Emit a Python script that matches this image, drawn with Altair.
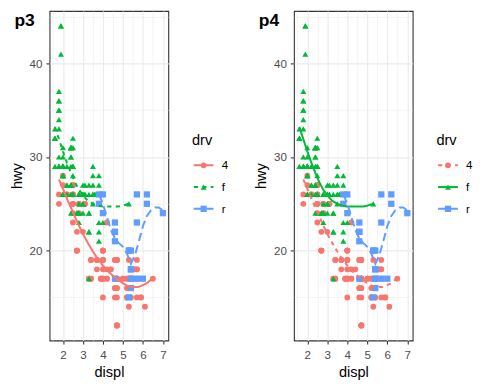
import altair as alt
import pandas as pd

FONT = "Liberation Sans"
drv_levels = ["4", "f", "r"]
drv_colors = ["#F8766D", "#00BA38", "#619CFF"]
drv_shapes = ["circle", "triangle-up", "square"]
drv_sizes = [34, 40, 30]

# ---- points (displ, hwy) by drive train ----
displ_4 = [1.8, 1.8, 2.0, 2.0, 2.8, 2.8, 3.1, 3.1, 2.8, 3.1, 4.2, 5.3, 5.3, 5.7, 6.5,
           3.7, 3.7, 3.9, 3.9, 4.7, 4.7, 4.7, 5.2, 5.2, 3.9, 4.7, 4.7, 4.7, 5.2, 5.7, 5.9,
           4.7, 4.7, 4.7, 4.7, 4.7, 5.2, 5.2, 5.7, 5.9, 4.0, 4.0, 4.0, 4.0, 4.6, 5.0,
           4.2, 4.2, 4.6, 4.6, 4.6, 5.4, 5.4, 3.0, 3.7, 4.0, 4.7, 4.7, 4.7, 5.7, 6.1,
           4.0, 4.2, 4.4, 4.6, 4.0, 4.0, 4.6, 5.0, 3.3, 3.3, 4.0, 5.6,
           2.5, 2.5, 2.5, 2.5, 2.5, 2.5, 2.2, 2.2, 2.5, 2.5, 2.5, 2.5,
           2.7, 2.7, 3.4, 3.4, 4.0, 4.7, 4.7, 5.7, 2.7, 2.7, 2.7, 3.4, 3.4, 4.0, 4.0]
hwy_4 = [26, 25, 28, 27, 25, 25, 25, 25, 24, 25, 23, 19, 14, 15, 17,
         19, 18, 17, 17, 19, 19, 12, 17, 15, 17, 17, 12, 17, 16, 18, 15,
         16, 12, 17, 17, 16, 15, 17, 17, 15, 17, 19, 17, 19, 19, 17,
         17, 17, 16, 16, 17, 15, 17, 22, 19, 20, 17, 12, 19, 19, 14,
         15, 18, 18, 15, 17, 19, 19, 17, 17, 17, 20, 18,
         25, 24, 27, 25, 26, 23, 26, 26, 27, 25, 27, 26,
         20, 20, 19, 17, 20, 17, 15, 18, 20, 20, 22, 17, 19, 18, 20]

displ_f = [1.8, 1.8, 2.0, 2.0, 2.8, 2.8, 3.1, 2.4, 2.4, 3.1, 3.5, 3.6,
           2.4, 3.0, 3.3, 3.3, 3.3, 3.3, 3.3, 3.8, 3.8, 3.8, 4.0,
           1.6, 1.6, 1.6, 1.6, 1.6, 1.8, 1.8, 1.8, 2.0,
           2.4, 2.4, 2.4, 2.4, 2.5, 2.5, 3.3, 2.0, 2.0, 2.0, 2.0, 2.7, 2.7, 2.7,
           2.4, 2.4, 2.5, 2.5, 3.5, 3.5, 3.5, 3.0, 3.0, 3.5,
           3.1, 3.8, 3.8, 3.8, 5.3, 2.2, 2.2, 2.4, 2.4, 3.0, 3.0, 3.5,
           2.2, 2.2, 2.4, 2.4, 3.0, 3.0, 3.3, 1.8, 1.8, 1.8, 1.8, 1.8,
           2.0, 2.0, 2.0, 2.0, 2.8, 1.9, 2.0, 2.0, 2.0, 2.0, 2.5, 2.5, 2.8, 2.8,
           1.9, 1.9, 2.0, 2.0, 2.5, 2.5, 1.8, 1.8, 2.0, 2.0, 2.8, 2.8, 3.6]
hwy_f = [29, 29, 31, 30, 26, 26, 27, 27, 30, 26, 29, 26,
         24, 24, 22, 22, 24, 24, 17, 22, 21, 23, 23,
         33, 32, 32, 29, 32, 34, 36, 36, 29,
         26, 27, 30, 31, 26, 26, 26, 26, 29, 28, 29, 24, 24, 24,
         29, 27, 31, 32, 27, 26, 26, 25, 25, 25,
         26, 26, 27, 28, 25, 26, 27, 31, 31, 26, 26, 28,
         27, 29, 31, 31, 26, 27, 27, 30, 33, 35, 37, 35,
         29, 29, 28, 29, 26, 44, 29, 26, 29, 29, 29, 29, 23, 24,
         44, 41, 29, 26, 28, 29, 29, 29, 28, 29, 24, 25, 26]

displ_r = [5.3, 5.3, 5.3, 5.7, 6.0, 5.7, 5.7, 6.2, 6.2, 7.0, 4.6, 5.4, 5.4,
           3.8, 3.8, 4.0, 4.0, 4.6, 4.6, 4.6, 4.6, 5.4, 5.4, 5.4, 5.4]
hwy_r = [20, 15, 20, 17, 17, 26, 23, 26, 25, 24, 17, 17, 18,
         26, 25, 26, 24, 21, 22, 23, 22, 20, 17, 16, 18]

# ---- smoothed curves ----
smooth_x_4 = [1.8, 2.0, 2.25, 2.5, 2.75, 3.0, 3.25, 3.5, 3.75, 4.0, 4.25, 4.5, 4.75,
              5.0, 5.25, 5.5, 5.75, 6.0, 6.25, 6.5]
smooth_y_4 = [27.6, 26.6, 25.3, 24.1, 22.9, 21.8, 20.8, 19.9, 19.1, 18.4, 17.8, 17.3, 16.9,
              16.5, 16.2, 16.1, 16.1, 16.3, 16.6, 17.1]
smooth_x_f = [1.6, 1.8, 2.0, 2.2, 2.4, 2.6, 2.8, 3.0, 3.25, 3.5, 3.75, 4.0, 4.25, 4.5,
              4.75, 5.0, 5.3]
smooth_y_f = [33.2, 31.9, 30.6, 29.4, 28.3, 27.3, 26.5, 25.9, 25.3, 25.0, 24.8, 24.7, 24.7, 24.7,
              24.7, 24.8, 25.0]
smooth_x_r = [3.8, 4.0, 4.2, 4.4, 4.6, 4.8, 5.0, 5.2, 5.4, 5.6, 5.8, 6.0, 6.2, 6.4, 6.6,
              6.8, 7.0]
smooth_y_r = [26.0, 25.0, 23.6, 22.2, 21.3, 20.8, 20.4, 19.7, 18.6, 19.5, 21.0, 22.6, 23.7,
              24.3, 24.6, 24.6, 24.3]

x_ticks = [1.5, 2, 2.5, 3, 3.5, 4, 4.5, 5, 5.5, 6, 6.5, 7]
y_ticks = [15, 20, 25, 30, 35, 40, 45]

points_df = pd.concat([
    pd.DataFrame({"displ": displ_4, "hwy": hwy_4, "drv": "4"}),
    pd.DataFrame({"displ": displ_f, "hwy": hwy_f, "drv": "f"}),
    pd.DataFrame({"displ": displ_r, "hwy": hwy_r, "drv": "r"}),
], ignore_index=True)
smooth_df = pd.concat([
    pd.DataFrame({"displ": smooth_x_4, "hwy": smooth_y_4, "drv": "4"}),
    pd.DataFrame({"displ": smooth_x_f, "hwy": smooth_y_f, "drv": "f"}),
    pd.DataFrame({"displ": smooth_x_r, "hwy": smooth_y_r, "drv": "r"}),
], ignore_index=True)

SOLID = [1, 0]
DASH22 = [4.3, 4.3]
DASH42 = [8.5, 4.3]
dash_p3 = [SOLID, DASH22, DASH42]
dash_p4 = [DASH22, SOLID, DASH42]

W, H = 120, 333

color_enc = alt.Color("drv:N", scale=alt.Scale(domain=drv_levels, range=drv_colors), legend=None)
shape_enc = alt.Shape("drv:N", scale=alt.Scale(domain=drv_levels, range=drv_shapes), legend=None)
size_enc = alt.Size("drv:N", scale=alt.Scale(domain=drv_levels, range=drv_sizes), legend=None)


def dash_enc(rng):
    return alt.StrokeDash("drv:N", scale=alt.Scale(domain=drv_levels, range=rng), legend=None)


axis_common = dict(
    domain=False, grid=True, gridColor="#EBEBEB",
    tickColor="#333333", tickSize=3.7, tickWidth=1.07,
    labelColor="#4D4D4D", labelFont=FONT, labelFontSize=11.7,
    titleFont=FONT, titleFontSize=14.7, titleColor="#000000", titleFontWeight="normal",
    labelOverlap=False, labelFlush=False,
)

x_axis = alt.Axis(
    values=x_ticks, labelPadding=6, titlePadding=3,
    gridWidth={"condition": {"test": "datum.value % 1 != 0", "value": 0.55}, "value": 1.1},
    tickOpacity={"condition": {"test": "datum.value % 1 != 0", "value": 0}, "value": 1},
    labelExpr="datum.value % 1 == 0 ? format(datum.value, 'd') : ''",
    **axis_common,
)
y_axis = alt.Axis(
    values=y_ticks, labelPadding=4, titlePadding=5,
    gridWidth={"condition": {"test": "datum.value % 10 != 0", "value": 0.55}, "value": 1.1},
    tickOpacity={"condition": {"test": "datum.value % 10 != 0", "value": 0}, "value": 1},
    labelExpr="datum.value % 10 == 0 ? format(datum.value, 'd') : ''",
    **axis_common,
)

x_enc = alt.X("displ:Q", scale=alt.Scale(domain=[1.33, 7.27], nice=False, zero=False),
              axis=x_axis, title="displ")
y_enc = alt.Y("hwy:Q", scale=alt.Scale(domain=[10.4, 45.6], nice=False, zero=False),
              axis=y_axis, title="hwy")


def panel(tag, dashes):
    pts = alt.Chart(points_df).mark_point(filled=True, opacity=1, strokeWidth=0).encode(
        x=x_enc, y=y_enc, color=color_enc, shape=shape_enc, size=size_enc)
    lines = alt.Chart(smooth_df).mark_line(strokeWidth=2).encode(
        x=x_enc, y=y_enc, color=color_enc, strokeDash=dash_enc(dashes))
    tag_txt = alt.Chart(pd.DataFrame({"t": [tag]})).mark_text(
        align="left", baseline="alphabetic", font=FONT, fontSize=17.6, fontWeight="bold",
        color="#000000").encode(text="t:N", x=alt.value(-35.5), y=alt.value(15.3))
    return alt.layer(pts, lines, tag_txt).properties(
        width=W, height=H,
        view=alt.ViewBackground(stroke="#333333", strokeWidth=1.1, fill="white"))


def legend(dashes):
    ldf = pd.DataFrame({"drv": drv_levels})
    y = alt.Y("drv:N", scale=alt.Scale(type="point", domain=drv_levels, range=[156, 200], padding=0),
              axis=None)
    title = alt.Chart(pd.DataFrame({"t": ["drv"]})).mark_text(
        align="left", baseline="alphabetic", font=FONT, fontSize=14.7, color="#000000").encode(
        text="t:N", x=alt.value(3), y=alt.value(135))
    rule = alt.Chart(ldf).mark_rule(strokeWidth=2).encode(
        y=y, x=alt.value(4.7), x2=alt.value(24.7), color=color_enc, strokeDash=dash_enc(dashes))
    pt = alt.Chart(ldf).mark_point(filled=True, opacity=1, strokeWidth=0).encode(
        y=y, x=alt.value(14.7), color=color_enc, shape=shape_enc, size=size_enc)
    lab = alt.Chart(ldf).mark_text(
        align="left", baseline="middle", font=FONT, fontSize=11.7, color="#000000").encode(
        y=y, x=alt.value(33), text="drv:N")
    return alt.layer(title, rule, pt, lab).properties(
        width=44, height=H, view=alt.ViewBackground(strokeOpacity=0))


chart = alt.hconcat(
    panel("p3", dash_p3), legend(dash_p3), panel("p4", dash_p4), legend(dash_p4), spacing=20
).resolve_scale(
    color="independent", shape="independent", size="independent", strokeDash="independent"
).properties(
    padding=0, background="white"
)

chart.save("out.html", embed_options={"renderer": "svg", "actions": False})
